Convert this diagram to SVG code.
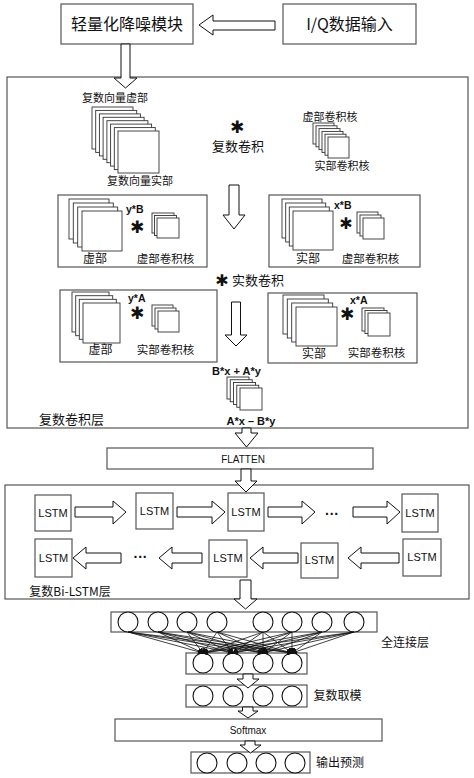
<svg xmlns="http://www.w3.org/2000/svg" width="474" height="778" viewBox="0 0 474 778">
<style>
.box{fill:#fff;stroke:#555;stroke-width:1.2}
.sh{fill:#fff;stroke:#333;stroke-width:0.9}
.arr{fill:#fff;stroke:#111;stroke-width:1}
.cn{font-family:"Noto Sans CJK SC","Noto Sans",sans-serif;fill:#111}
.lt{font-family:"Liberation Sans",Arial,sans-serif;fill:#111}
.b{font-family:"Liberation Sans",Arial,sans-serif;font-weight:bold;fill:#111}
.ast{font-family:"DejaVu Sans",sans-serif;fill:#111}
.c{fill:#fff;stroke:#111;stroke-width:1.1}
.fl{stroke:#111;stroke-width:0.8}
</style>
<defs>
<marker id="ah" markerWidth="6" markerHeight="6" refX="5" refY="3" orient="auto" markerUnits="userSpaceOnUse">
<path d="M0,0 L6,3 L0,6 z" fill="#111"/>
</marker>
</defs>
<rect width="474" height="778" fill="#fff"/>

<g id="denoise"><rect class="box" x="61" y="4" width="132" height="40"/><text class="cn" x="127" y="30" font-size="16" text-anchor="middle">轻量化降噪模块</text></g>
<g id="iq"><rect class="box" x="283" y="4" width="133" height="40"/><text class="cn" x="349.5" y="30" font-size="16" text-anchor="middle">I/Q数据输入</text></g>

<g id="conv">
<rect class="box" x="7" y="77" width="461" height="351"/>
<text class="cn" x="115" y="102" font-size="11" text-anchor="middle">复数向量虚部</text>
<g id="stack-main">
<rect class="sh" x="92" y="107" width="41" height="42"/>
<rect class="sh" x="95.7" y="110.4" width="41" height="42"/>
<rect class="sh" x="99.4" y="113.9" width="41" height="42"/>
<rect class="sh" x="103.1" y="117.3" width="41" height="42"/>
<rect class="sh" x="106.9" y="120.7" width="41" height="42"/>
<rect class="sh" x="110.6" y="124.1" width="41" height="42"/>
<rect class="sh" x="114.3" y="127.6" width="41" height="42"/>
<rect class="sh" x="118" y="131" width="41" height="42"/>
</g>
<text class="cn" x="140" y="185" font-size="11" text-anchor="middle">复数向量实部</text>
<text class="ast" x="237" y="133" font-size="17" text-anchor="middle">✱</text>
<text class="cn" x="238" y="151" font-size="13" text-anchor="middle">复数卷积</text>
<text class="cn" x="330" y="121" font-size="11" text-anchor="middle">虚部卷积核</text>
<g id="stack-kernel">
<rect class="sh" x="313" y="123" width="21" height="21"/>
<rect class="sh" x="316" y="125.8" width="21" height="21"/>
<rect class="sh" x="319" y="128.6" width="21" height="21"/>
<rect class="sh" x="322" y="131.4" width="21" height="21"/>
<rect class="sh" x="325" y="134.2" width="21" height="21"/>
<rect class="sh" x="328" y="137" width="21" height="21"/>
</g>
<text class="cn" x="342" y="170" font-size="11" text-anchor="middle">实部卷积核</text>

<g id="sub-l1">
<rect class="box" x="58" y="195" width="149" height="72"/>
<rect class="sh" x="69" y="199" width="40" height="40"/>
<rect class="sh" x="73.3" y="203" width="40" height="40"/>
<rect class="sh" x="77.7" y="207" width="40" height="40"/>
<rect class="sh" x="82" y="211" width="40" height="40"/>
<text class="b" x="126" y="213" font-size="10.5">y*B</text>
<text class="ast" x="137" y="233" font-size="17" text-anchor="middle">✱</text>
<rect class="sh" x="152" y="213" width="22" height="20"/>
<rect class="sh" x="154.5" y="215.5" width="22" height="20"/>
<rect class="sh" x="157" y="218" width="22" height="20"/>
<text class="cn" x="95" y="263" font-size="12" text-anchor="middle">虚部</text>
<text class="cn" x="165.5" y="263" font-size="11.5" text-anchor="middle">虚部卷积核</text>
</g>
<g id="sub-r1">
<rect class="box" x="269" y="195" width="151" height="72"/>
<rect class="sh" x="282" y="199" width="40" height="39"/>
<rect class="sh" x="285.7" y="203" width="40" height="39"/>
<rect class="sh" x="289.3" y="207" width="40" height="39"/>
<rect class="sh" x="293" y="211" width="40" height="39"/>
<text class="b" x="334" y="209" font-size="10.5">x*B</text>
<text class="ast" x="346" y="229" font-size="16" text-anchor="middle">✱</text>
<rect class="sh" x="357" y="212" width="21" height="21"/>
<rect class="sh" x="360" y="215" width="21" height="21"/>
<rect class="sh" x="363" y="218" width="21" height="21"/>
<text class="cn" x="308" y="263" font-size="12" text-anchor="middle">实部</text>
<text class="cn" x="370.5" y="263" font-size="11.5" text-anchor="middle">虚部卷积核</text>
</g>
<text class="ast" x="222" y="286" font-size="16" text-anchor="middle">✱</text>
<text class="cn" x="258" y="285" font-size="13" text-anchor="middle">实数卷积</text>

<g id="sub-l2">
<rect class="box" x="60" y="290" width="157" height="72"/>
<rect class="sh" x="72" y="292" width="37" height="40"/>
<rect class="sh" x="75.7" y="295.7" width="37" height="40"/>
<rect class="sh" x="79.3" y="299.3" width="37" height="40"/>
<rect class="sh" x="83" y="303" width="37" height="40"/>
<text class="b" x="128" y="302" font-size="10.5">y*A</text>
<text class="ast" x="137" y="319" font-size="17" text-anchor="middle">✱</text>
<rect class="sh" x="152" y="305" width="21" height="21"/>
<rect class="sh" x="155" y="308" width="21" height="21"/>
<rect class="sh" x="158" y="311" width="21" height="21"/>
<text class="cn" x="100.5" y="354" font-size="12" text-anchor="middle">虚部</text>
<text class="cn" x="165.5" y="354" font-size="11.5" text-anchor="middle">实部卷积核</text>
</g>
<g id="sub-r2">
<rect class="box" x="268" y="293" width="149" height="70"/>
<rect class="sh" x="283" y="295" width="41" height="39"/>
<rect class="sh" x="287.3" y="299" width="41" height="39"/>
<rect class="sh" x="291.7" y="303" width="41" height="39"/>
<rect class="sh" x="296" y="307" width="41" height="39"/>
<text class="b" x="350" y="304" font-size="10.5">x*A</text>
<text class="ast" x="347" y="320" font-size="17" text-anchor="middle">✱</text>
<rect class="sh" x="362" y="308" width="22" height="23"/>
<rect class="sh" x="365" y="310.5" width="22" height="23"/>
<rect class="sh" x="368" y="313" width="22" height="23"/>
<text class="cn" x="314" y="358" font-size="12" text-anchor="middle">实部</text>
<text class="cn" x="376.5" y="357" font-size="11.5" text-anchor="middle">实部卷积核</text>
</g>
<text class="b" x="236.5" y="375" font-size="11" text-anchor="middle">B*x + A*y</text>
<g id="stack-result">
<rect class="sh" x="227" y="377" width="22" height="22"/>
<rect class="sh" x="230.25" y="379.75" width="22" height="22"/>
<rect class="sh" x="233.5" y="382.5" width="22" height="22"/>
<rect class="sh" x="236.75" y="385.25" width="22" height="22"/>
<rect class="sh" x="240" y="388" width="22" height="22"/>
</g>
<text class="b" x="251" y="425" font-size="11" text-anchor="middle">A*x  –  B*y</text>
<text class="cn" x="71.5" y="424" font-size="13" text-anchor="middle">复数卷积层</text>
</g>

<g id="flatten"><rect class="box" x="107" y="448" width="266" height="21"/><text class="lt" x="243" y="463" font-size="10" text-anchor="middle">FLATTEN</text></g>

<g id="bilstm">
<rect class="box" x="5" y="485" width="464" height="114"/>
<text class="cn" x="70" y="596" font-size="12" text-anchor="middle">复数Bi-LSTM层</text>
</g>
<g id="lstm-f1"><rect class="box" x="35" y="495" width="36" height="36"/><text class="lt" x="53" y="517" font-size="11" text-anchor="middle">LSTM</text></g>
<g id="lstm-f2"><rect class="box" x="136" y="493" width="37" height="36"/><text class="lt" x="154.5" y="515" font-size="11" text-anchor="middle">LSTM</text></g>
<g id="lstm-f3"><rect class="box" x="228" y="493" width="36" height="38"/><text class="lt" x="246" y="516" font-size="11" text-anchor="middle">LSTM</text></g>
<g id="lstm-f4"><rect class="box" x="402" y="494" width="36" height="38"/><text class="lt" x="420" y="517" font-size="11" text-anchor="middle">LSTM</text></g>
<g id="lstm-b1"><rect class="box" x="35" y="539" width="37" height="38"/><text class="lt" x="53.5" y="562" font-size="11" text-anchor="middle">LSTM</text></g>
<g id="lstm-b2"><rect class="box" x="209" y="540" width="38" height="37"/><text class="lt" x="228" y="562" font-size="11" text-anchor="middle">LSTM</text></g>
<g id="lstm-b3"><rect class="box" x="301" y="543" width="37" height="35"/><text class="lt" x="319.5" y="564" font-size="11" text-anchor="middle">LSTM</text></g>
<g id="lstm-b4"><rect class="box" x="403" y="539" width="38" height="37"/><text class="lt" x="422" y="561" font-size="11" text-anchor="middle">LSTM</text></g>
<text class="b" x="332" y="519" font-size="14" text-anchor="middle">···</text>
<text class="b" x="140.5" y="562" font-size="14" text-anchor="middle">···</text>

<g id="fc">
<rect class="box" x="111" y="612" width="266" height="20"/>
<circle class="c" cx="128" cy="622" r="10"/><circle class="c" cx="158" cy="622" r="10"/><circle class="c" cx="187" cy="622" r="10"/><circle class="c" cx="217" cy="622" r="10"/>
<circle class="c" cx="263" cy="622" r="10"/><circle class="c" cx="292" cy="622" r="10"/><circle class="c" cx="322" cy="622" r="10"/><circle class="c" cx="354" cy="622" r="10"/>
<rect class="box" x="186" y="653" width="121" height="21"/>
<circle class="c" cx="203" cy="663" r="10"/><circle class="c" cx="233" cy="663" r="10"/><circle class="c" cx="263" cy="663" r="10"/><circle class="c" cx="292" cy="663" r="10"/>
<text class="cn" x="405" y="647" font-size="12" text-anchor="middle">全连接层</text>
</g>
<g id="modulus">
<rect class="box" x="186" y="685" width="121" height="22"/>
<circle class="c" cx="203" cy="696" r="10"/><circle class="c" cx="233" cy="696" r="10"/><circle class="c" cx="263" cy="696" r="10"/><circle class="c" cx="292" cy="696" r="10"/>
<text class="cn" x="337.5" y="700" font-size="12" text-anchor="middle">复数取模</text>
</g>
<g id="softmax"><rect class="box" x="115" y="719" width="267" height="22"/><text class="lt" x="248" y="734" font-size="10" text-anchor="middle">Softmax</text></g>
<g id="output">
<rect class="box" x="191" y="752" width="119" height="21"/>
<circle class="c" cx="207" cy="763" r="10"/><circle class="c" cx="237" cy="763" r="10"/><circle class="c" cx="266" cy="763" r="10"/><circle class="c" cx="295" cy="763" r="10"/>
<text class="cn" x="340" y="767" font-size="12" text-anchor="middle">输出预测</text>
</g>

<g id="connectors">
<polygon class="arr" points="199,25 213,15 213,21 275,21 275,30 213,30 213,35"/>
<polygon class="arr" points="121,44 130,44 130,78 137,78 125.5,88 114,78 121,78"/>
<polygon class="arr" points="229,185 239,185 239,215 245,215 234,229 223,215 229,215"/>
<polygon class="arr" points="231.5,302 240.5,302 240.5,335 247,335 236,346 225,335 231.5,335"/>
<polygon class="arr" points="242,428 251,428 251,433 258,433 246.5,447 235,433 242,433"/>
<polygon class="arr" points="241,469 251,469 251,481 257,481 246,492 235,481 241,481"/>
<polygon class="arr" points="75,507 113,507 113,501 126,512 113,524 113,517 75,517"/>
<polygon class="arr" points="177,507 212,507 212,501 225,512 212,524 212,517 177,517"/>
<polygon class="arr" points="268,507 302,507 302,501 315,512 302,524 302,517 268,517"/>
<polygon class="arr" points="353,507 387,507 387,501 400,512 387,524 387,517 353,517"/>
<polygon class="arr" points="73,558 86,547 86,553 121,553 121,563 86,563 86,569"/>
<polygon class="arr" points="159,558 172,547 172,553 202,553 202,563 172,563 172,569"/>
<polygon class="arr" points="250,558 263,547 263,553 298,553 298,563 263,563 263,569"/>
<polygon class="arr" points="348,558 361,547 361,553 399,553 399,563 361,563 361,569"/>
<polygon class="arr" points="240,580 251,580 251,599 257,599 245.5,609 234,599 240,599"/>
<g id="fc-lines">
<line class="fl" x1="128" y1="632" x2="203" y2="653" marker-end="url(#ah)"/><line class="fl" x1="128" y1="632" x2="233" y2="653" marker-end="url(#ah)"/><line class="fl" x1="128" y1="632" x2="263" y2="653" marker-end="url(#ah)"/><line class="fl" x1="128" y1="632" x2="292" y2="653" marker-end="url(#ah)"/>
<line class="fl" x1="158" y1="632" x2="203" y2="653" marker-end="url(#ah)"/><line class="fl" x1="158" y1="632" x2="233" y2="653" marker-end="url(#ah)"/><line class="fl" x1="158" y1="632" x2="263" y2="653" marker-end="url(#ah)"/><line class="fl" x1="158" y1="632" x2="292" y2="653" marker-end="url(#ah)"/>
<line class="fl" x1="187" y1="632" x2="203" y2="653" marker-end="url(#ah)"/><line class="fl" x1="187" y1="632" x2="233" y2="653" marker-end="url(#ah)"/><line class="fl" x1="187" y1="632" x2="263" y2="653" marker-end="url(#ah)"/><line class="fl" x1="187" y1="632" x2="292" y2="653" marker-end="url(#ah)"/>
<line class="fl" x1="217" y1="632" x2="203" y2="653" marker-end="url(#ah)"/><line class="fl" x1="217" y1="632" x2="233" y2="653" marker-end="url(#ah)"/><line class="fl" x1="217" y1="632" x2="263" y2="653" marker-end="url(#ah)"/><line class="fl" x1="217" y1="632" x2="292" y2="653" marker-end="url(#ah)"/>
<line class="fl" x1="263" y1="632" x2="203" y2="653" marker-end="url(#ah)"/><line class="fl" x1="263" y1="632" x2="233" y2="653" marker-end="url(#ah)"/><line class="fl" x1="263" y1="632" x2="263" y2="653" marker-end="url(#ah)"/><line class="fl" x1="263" y1="632" x2="292" y2="653" marker-end="url(#ah)"/>
<line class="fl" x1="292" y1="632" x2="203" y2="653" marker-end="url(#ah)"/><line class="fl" x1="292" y1="632" x2="233" y2="653" marker-end="url(#ah)"/><line class="fl" x1="292" y1="632" x2="263" y2="653" marker-end="url(#ah)"/><line class="fl" x1="292" y1="632" x2="292" y2="653" marker-end="url(#ah)"/>
<line class="fl" x1="322" y1="632" x2="203" y2="653" marker-end="url(#ah)"/><line class="fl" x1="322" y1="632" x2="233" y2="653" marker-end="url(#ah)"/><line class="fl" x1="322" y1="632" x2="263" y2="653" marker-end="url(#ah)"/><line class="fl" x1="322" y1="632" x2="292" y2="653" marker-end="url(#ah)"/>
<line class="fl" x1="354" y1="632" x2="203" y2="653" marker-end="url(#ah)"/><line class="fl" x1="354" y1="632" x2="233" y2="653" marker-end="url(#ah)"/><line class="fl" x1="354" y1="632" x2="263" y2="653" marker-end="url(#ah)"/><line class="fl" x1="354" y1="632" x2="292" y2="653" marker-end="url(#ah)"/>
</g>
<polygon class="arr" points="243,674 253,674 253,679 259,679 248,688 237,679 243,679"/>
<polygon class="arr" points="242.5,707 253,707 253,711 258,711 248,718 238,711 242.5,711"/>
<polygon class="arr" points="245,741 255,741 255,745 261,745 250.5,753 240,745 245,745"/>
</g>
</svg>
